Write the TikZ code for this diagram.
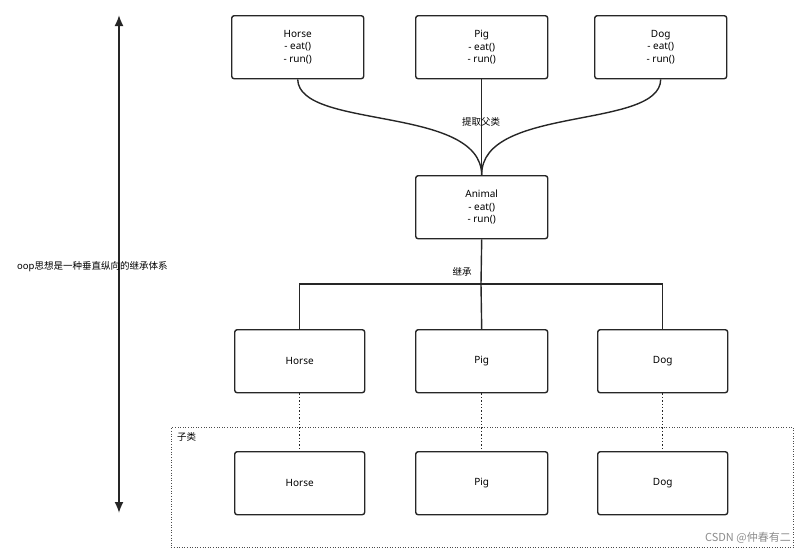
\documentclass[tikz,border=0pt]{standalone}
\usepackage{fontspec}
\usetikzlibrary{arrows.meta}
\setmainfont{Noto Sans}
\newfontfamily\cjk{Noto Sans CJK SC}
\definecolor{arrred}{RGB}{150,90,90}
\begin{document}
\begin{tikzpicture}[x=1pt,y=-1pt,
  box/.style={draw=black!85,line width=1.4pt,rounded corners=2.5pt,minimum width=132pt,minimum height=63pt,anchor=north west,font=\fontsize{10}{12.5}\selectfont,align=center,inner sep=0pt},
  ln/.style={draw=black!85,line width=1.4pt},
  lab/.style={font=\cjk\fontsize{9.5}{11}\selectfont,inner sep=1pt}]
\useasboundingbox (0,0) rectangle (803,557);
\node[box] (h1) at (231,15) {Horse\\- eat()\\- run()};
\node[box] (p1) at (415,15) {Pig\\- eat()\\- run()};
\node[box] (d1) at (594,15) {Dog\\- eat()\\- run()};
\node[box] (a) at (415,175) {Animal\\- eat()\\- run()};
\node[box,minimum width=130pt] (h2) at (234,329) {Horse};
\node[box] (p2) at (415,329) {Pig};
\node[box,minimum width=130pt] (d2) at (597,329) {Dog};
\node[box,minimum width=130pt] (h3) at (234,451) {Horse};
\node[box] (p3) at (415,451) {Pig};
\node[box,minimum width=130pt] (d3) at (597,451) {Dog};
\draw[ln] (h1.south) .. controls (299,130) and (481,105) .. (a.north);
\draw[ln] (d1.south) .. controls (660,130) and (481,105) .. (a.north);
\draw[ln] (p1.south) -- (a.north);
\node[lab] (t1) at (481,122) {提取父类};
\coordinate (j) at (481,284);
\draw[ln] (a.south) -- (j);
\draw[ln] (h2.north) |- (j) -| (d2.north);
\draw[ln] (j) -- (p2.north);
\node[lab] (t2) at (462,272) {继承};
\draw[line width=1.4pt,black!85,dotted] (h2.south) -- (h3.north);
\draw[line width=1.4pt,black!85,dotted] (p2.south) -- (p3.north);
\draw[line width=1.4pt,black!85,dotted] (d2.south) -- (d3.north);
\node[draw=black!70,dotted,line width=0.6pt,minimum width=622pt,minimum height=120pt,anchor=north west,inner sep=0pt] (grp) at (171,427) {};
\node[lab,anchor=north west] (t3) at (176,431) {子类};
\coordinate (ta) at (119,15);
\coordinate (tb) at (119,513);
\draw[line width=2.8pt,arrred,shorten >=8pt,shorten <=8pt] (tb) -- (ta);
\draw[line width=1.8pt,black!85,{Latex[length=11pt,width=9pt]}-{Latex[length=11pt,width=9pt]}] (tb) -- (ta);
\node[lab,anchor=west] (t4) at (16,267) {{\fontspec{Noto Sans}oop}思想是一种垂直纵向的继承体系};
\node[font=\cjk\fontsize{11}{13}\selectfont,text=black!45,anchor=east,inner sep=0pt] (wm) at (791,538) {CSDN @仲春有二};
\end{tikzpicture}
\end{document}
